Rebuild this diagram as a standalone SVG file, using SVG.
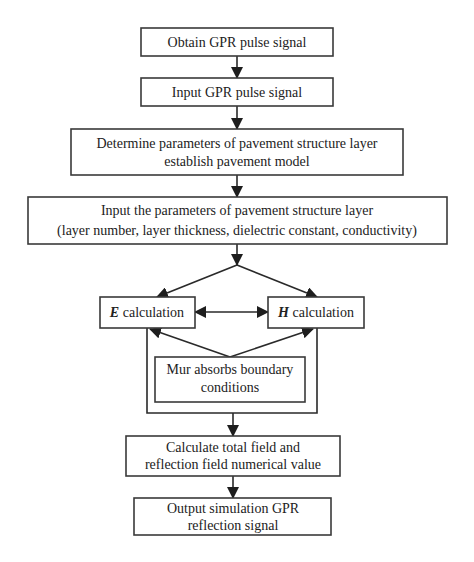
<svg xmlns="http://www.w3.org/2000/svg" width="474" height="562" viewBox="0 0 474 562">
<style>
.box{fill:#fff;stroke:#3a3a3a;stroke-width:1.6}
.t{font-family:"Liberation Serif","Times New Roman",serif;font-size:14px;fill:#222;text-anchor:middle}
.c{fill:none;stroke:#2a2a2a;stroke-width:1.6}
</style>
<defs>
<marker id="ah" markerUnits="userSpaceOnUse" markerWidth="12" markerHeight="12" refX="11" refY="6" orient="auto-start-reverse" viewBox="0 0 12 12">
<path d="M0,0 L12,6 L0,12 z" fill="#1e1e1e"/>
</marker>
</defs>
<rect width="474" height="562" fill="#fff"/>
<g id="connectors">
<line class="c" x1="237" y1="56" x2="237" y2="78" marker-end="url(#ah)"/>
<line class="c" x1="237" y1="106" x2="237" y2="129" marker-end="url(#ah)"/>
<line class="c" x1="237" y1="175" x2="237" y2="197" marker-end="url(#ah)"/>
<line class="c" x1="237" y1="244" x2="237" y2="265" marker-end="url(#ah)"/>
<line class="c" x1="237" y1="265" x2="157" y2="297" marker-end="url(#ah)"/>
<line class="c" x1="237" y1="265" x2="317" y2="297" marker-end="url(#ah)"/>
<line class="c" x1="195" y1="312" x2="268" y2="312" marker-start="url(#ah)" marker-end="url(#ah)"/>
<line class="c" x1="230" y1="357" x2="150" y2="329" marker-end="url(#ah)"/>
<line class="c" x1="230" y1="357" x2="313" y2="329" marker-end="url(#ah)"/>
<polyline class="c" points="147,328 147,413 317,413 317,328"/>
<line class="c" x1="233" y1="413" x2="233" y2="436" marker-end="url(#ah)"/>
<line class="c" x1="233" y1="476" x2="233" y2="498" marker-end="url(#ah)"/>
</g>
<g id="n1">
<rect class="box" x="141" y="28" width="192" height="28"/>
<text class="t" x="237" y="47">Obtain GPR pulse signal</text>
</g>
<g id="n2">
<rect class="box" x="141" y="78" width="192" height="28"/>
<text class="t" x="237" y="97">Input GPR pulse signal</text>
</g>
<g id="n3">
<rect class="box" x="71" y="129" width="332" height="46"/>
<text class="t" x="237" y="148">Determine parameters of pavement structure layer</text>
<text class="t" x="237" y="166">establish pavement model</text>
</g>
<g id="n4">
<rect class="box" x="28" y="197" width="419" height="47"/>
<text class="t" x="237" y="215">Input the parameters of pavement structure layer</text>
<text class="t" x="237" y="235">(layer number, layer thickness, dielectric constant, conductivity)</text>
</g>
<g id="nE">
<rect class="box" x="100" y="297" width="95" height="31"/>
<text class="t" x="147" y="317"><tspan font-weight="bold" font-style="italic">E</tspan> calculation</text>
</g>
<g id="nH">
<rect class="box" x="268" y="297" width="96" height="31"/>
<text class="t" x="316" y="317"><tspan font-weight="bold" font-style="italic">H</tspan> calculation</text>
</g>
<g id="nMur">
<rect class="box" x="155" y="357" width="150" height="45"/>
<text class="t" x="230" y="374">Mur absorbs boundary</text>
<text class="t" x="230" y="392">conditions</text>
</g>
<g id="nCalc">
<rect class="box" x="126" y="436" width="214" height="40"/>
<text class="t" x="233" y="452">Calculate total field and</text>
<text class="t" x="233" y="469">reflection field numerical value</text>
</g>
<g id="nOut">
<rect class="box" x="134" y="498" width="197" height="37"/>
<text class="t" x="233" y="513">Output simulation GPR</text>
<text class="t" x="233" y="530">reflection signal</text>
</g>
</svg>
